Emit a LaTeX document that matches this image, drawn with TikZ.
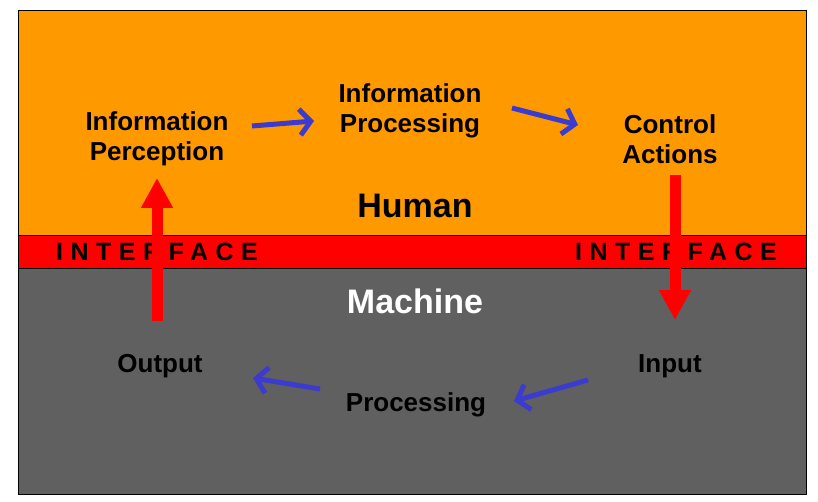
\documentclass[tikz,border=0pt]{standalone}
\usepackage{fontspec}
\setmainfont{Liberation Sans}
\usetikzlibrary{arrows.meta}
\definecolor{humanorange}{HTML}{FF9900}
\definecolor{machinegrey}{HTML}{606060}
\definecolor{flowblue}{HTML}{3B3BD0}
\tikzset{
  lbl/.style={font=\bfseries\fontsize{26}{30}\selectfont, align=center},
  big/.style={font=\bfseries\fontsize{34}{38}\selectfont},
  iface/.style={font=\bfseries\fontsize{25}{28}\selectfont\addfontfeature{LetterSpace=30}, text=black},
  blue flow/.style={flowblue, line width=5pt, -{Straight Barb[length=11pt, width=26pt, line width=5pt]}},
  red flow/.style={red, line width=11pt, -{Triangle[length=30pt, width=30pt]}}
}
\begin{document}
\begin{tikzpicture}[x=1pt, y=-1pt]
    \useasboundingbox (0, 0) rectangle (818, 502);
    \fill[humanorange] (18, 10) rectangle (806, 235);
    \fill[red] (18, 235) rectangle (806, 268);
    \fill[machinegrey] (18, 268) rectangle (806, 494);
    \draw (18, 235) -- (806, 235) (18, 268) -- (806, 268);
    \draw (18, 10) rectangle (806, 494);

    \node[iface] (ifl) at (157, 252) {INTERFACE};
    \node[iface] (ifr) at (676, 252) {INTERFACE};

    \node[lbl] (perc) at (157, 139) {Information\\Perception};
    \node[lbl] (proc) at (410, 111) {Information\\Processing};
    \node[lbl] (ctrl) at (670, 139) {Control\\Actions};
    \node[big] (human) at (415, 206) {Human};
    \node[big, white] (machine) at (415, 301) {Machine};
    \node[lbl] (out) at (160, 366) {Output};
    \node[lbl] (mproc) at (416, 405) {Processing};
    \node[lbl] (in) at (670, 366) {Input};

    \coordinate (b1s) at (252, 126); \coordinate (b1e) at (314, 121);
    \coordinate (b2s) at (512, 108); \coordinate (b2e) at (578, 125);
    \coordinate (b3s) at (588, 380); \coordinate (b3e) at (514, 401);
    \coordinate (b4s) at (320, 389); \coordinate (b4e) at (253, 378);
    \coordinate (r1s) at (157, 321); \coordinate (r1e) at (157, 178);
    \coordinate (r2s) at (675, 175); \coordinate (r2e) at (675, 320);

    \draw[blue flow] (b1s) -- (b1e);
    \draw[blue flow] (b2s) -- (b2e);
    \draw[blue flow] (b3s) -- (b3e);
    \draw[blue flow] (b4s) -- (b4e);
    \draw[red flow] (r1s) -- (r1e);
    \draw[red flow] (r2s) -- (r2e);
\end{tikzpicture}
\end{document}
